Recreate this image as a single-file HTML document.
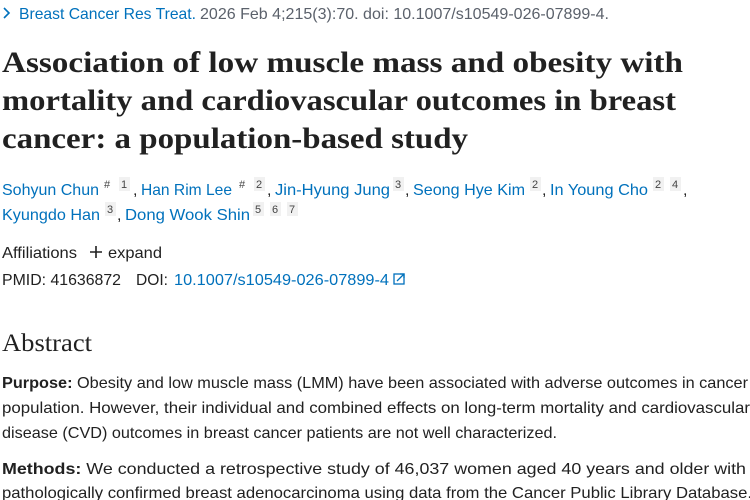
<!DOCTYPE html>
<html><head><meta charset="utf-8"><style>
html,body{margin:0;padding:0;background:#fff;width:750px;height:500px;overflow:hidden}
svg{display:block}
.s{font-family:"Liberation Sans",sans-serif;font-size:16px;fill:#212121}
.b{fill:#0071bc}
.g{fill:#5b616b}
.t{font-family:"Liberation Serif",serif;font-weight:bold;font-size:30px;fill:#212121}
.sup{font-family:"Liberation Sans",sans-serif;font-size:11px;fill:#444}
</style></head><body>
<svg width="750" height="500" viewBox="0 0 750 500" xmlns="http://www.w3.org/2000/svg">
<g class="s">
<path d="M4 8 L9 13 L4 18" stroke="#0071bc" stroke-width="1.6" fill="none"/>
<text x="19" y="19" class="s b" textLength="177" lengthAdjust="spacingAndGlyphs">Breast Cancer Res Treat.</text>
<text x="200" y="19" class="s g" textLength="409" lengthAdjust="spacingAndGlyphs">2026 Feb 4;215(3):70. doi: 10.1007/s10549-026-07899-4.</text>
</g>
<text x="2" y="72" class="t" textLength="681" lengthAdjust="spacingAndGlyphs">Association of low muscle mass and obesity with</text>
<text x="2" y="110" class="t" textLength="674" lengthAdjust="spacingAndGlyphs">mortality and cardiovascular outcomes in breast</text>
<text x="2" y="148" class="t" textLength="466" lengthAdjust="spacingAndGlyphs">cancer: a population-based study</text>

<g fill="#f1f1f1">
<rect x="119" y="177" width="11" height="14"/><rect x="254" y="177" width="11" height="14"/>
<rect x="393" y="177" width="11" height="14"/><rect x="530" y="177" width="11" height="14"/>
<rect x="653" y="177" width="11" height="14"/><rect x="670" y="177" width="11" height="14"/>
<rect x="105" y="202" width="11" height="14"/><rect x="253" y="202" width="11" height="14"/>
<rect x="270" y="202" width="11" height="14"/><rect x="287" y="202" width="11" height="14"/>
</g>
<text x="2" y="195" class="s b" textLength="97" lengthAdjust="spacingAndGlyphs">Sohyun Chun</text>
<text x="104" y="188" class="sup">#</text><text x="121" y="188" class="sup">1</text>
<text x="133" y="195" class="s">,</text>
<text x="141" y="195" class="s b" textLength="91" lengthAdjust="spacingAndGlyphs">Han Rim Lee</text>
<text x="239" y="188" class="sup">#</text><text x="256" y="188" class="sup">2</text>
<text x="267" y="195" class="s">,</text>
<text x="275" y="195" class="s b" textLength="115" lengthAdjust="spacingAndGlyphs">Jin-Hyung Jung</text>
<text x="395" y="188" class="sup">3</text>
<text x="405" y="195" class="s">,</text>
<text x="413" y="195" class="s b" textLength="112" lengthAdjust="spacingAndGlyphs">Seong Hye Kim</text>
<text x="532" y="188" class="sup">2</text>
<text x="542" y="195" class="s">,</text>
<text x="550" y="195" class="s b" textLength="98" lengthAdjust="spacingAndGlyphs">In Young Cho</text>
<text x="655" y="188" class="sup">2</text><text x="672" y="188" class="sup">4</text>
<text x="683" y="195" class="s">,</text>
<text x="2" y="220" class="s b" textLength="98" lengthAdjust="spacingAndGlyphs">Kyungdo Han</text>
<text x="107" y="213" class="sup">3</text>
<text x="117" y="220" class="s">,</text>
<text x="125" y="220" class="s b" textLength="125" lengthAdjust="spacingAndGlyphs">Dong Wook Shin</text>
<text x="255" y="213" class="sup">5</text><text x="272" y="213" class="sup">6</text><text x="289" y="213" class="sup">7</text>

<text x="2" y="258" class="s" textLength="75" lengthAdjust="spacingAndGlyphs">Affiliations</text>
<path d="M96 246 V258 M90 252 H102" stroke="#212121" stroke-width="1.6"/>
<text x="108" y="258" class="s" textLength="54" lengthAdjust="spacingAndGlyphs">expand</text>
<text x="2" y="285" class="s" textLength="119" lengthAdjust="spacingAndGlyphs">PMID: 41636872</text>
<text x="136" y="285" class="s" textLength="32" lengthAdjust="spacingAndGlyphs">DOI:</text>
<text x="174" y="285" class="s b" textLength="215" lengthAdjust="spacingAndGlyphs">10.1007/s10549-026-07899-4</text>
<g stroke="#0071bc" stroke-width="1.3" fill="none"><rect x="394" y="274" width="10" height="10"/><path d="M397 281 L404 274 M400 274 H404 V278"/></g>

<text x="2" y="351" style="font-family:'Liberation Serif',serif;font-size:25px;fill:#212121" textLength="90" lengthAdjust="spacingAndGlyphs">Abstract</text>

<text x="2" y="388" class="s" textLength="746" lengthAdjust="spacingAndGlyphs"><tspan font-weight="bold">Purpose:</tspan> Obesity and low muscle mass (LMM) have been associated with adverse outcomes in cancer</text>
<text x="2" y="413" class="s" textLength="748" lengthAdjust="spacingAndGlyphs">population. However, their individual and combined effects on long-term mortality and cardiovascular</text>
<text x="2" y="438" class="s" textLength="555" lengthAdjust="spacingAndGlyphs">disease (CVD) outcomes in breast cancer patients are not well characterized.</text>
<text x="2" y="474" class="s" textLength="744" lengthAdjust="spacingAndGlyphs"><tspan font-weight="bold">Methods:</tspan> We conducted a retrospective study of 46,037 women aged 40 years and older with</text>
<text x="2" y="498" class="s" textLength="750" lengthAdjust="spacingAndGlyphs">pathologically confirmed breast adenocarcinoma using data from the Cancer Public Library Database.</text>
</svg>
</body></html>
